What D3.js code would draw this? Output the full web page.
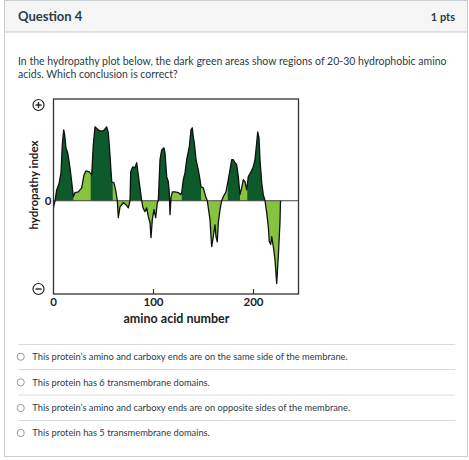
<!DOCTYPE html>
<html>
<head>
<meta charset="utf-8">
<script src="https://cdn.jsdelivr.net/npm/d3@7"></script>
<style>
  body { margin: 0; background: #fff; }
  svg { display: block; font-family: Lato, "Open Sans", sans-serif; }
</style>
</head>
<body>
<svg id="page"></svg>
<script>
// residue positions and hydropathy index
const residues = [
  0, 0.5, 1.5, 3.2, 5.5, 7.5, 8.8, 10.2, 11.2, 12.5, 14.2, 16.5, 18.2, 19.8,
  21.5, 24.8, 28.2, 30.5, 32.5, 35.8, 38.2, 39.8, 41.5, 44.8, 46.5, 49.8, 53.2, 54.8,
  56.5, 58.2, 60.5, 62.5, 63.8, 64.8, 66.5, 69.8, 72.5, 74.8, 76.5, 77.2, 79.2, 81.5,
  83.2, 84.8, 86.5, 88.2, 89.5, 91.5, 93.2, 94.8, 96.5, 97.5, 98.8, 100.5, 102.2, 103.8,
  104.8, 106.5, 108.2, 110.5, 111.5, 113.2, 114.8, 115.8, 116.5, 117.5, 118.8, 121.5, 124.8, 127.2,
  128.2, 129.8, 131.5, 133.2, 135.8, 137.5, 138.8, 139.8, 140.8, 142.5, 144.8, 146.5, 147.5, 149.8,
  152.2, 153.8, 155.5, 156.5, 157.5, 158.2, 159.8, 161.5, 162.5, 163.8, 164.8, 166.5, 168.2, 169.8,
  172.5, 174.8, 176.5, 178.2, 179.8, 181.5, 183.2, 184.8, 186.5, 188.2, 189.8, 191.5, 193.2, 194.8,
  197.5, 199.8, 201.5, 203.2, 204.2, 205.5, 206.5, 208.2, 209.8, 211.5, 213.2, 214.8, 215.8, 217.2,
  218.2, 219.8, 221.5, 223.2, 224.8, 226.5, 227
];
const hydropathy = [
  -0.21, -0.12, 0, 0.32, 0.50, 0.82, 1.65, 2.09, 1.94, 1.56, 1.41, 0.97, 0.56, 0.12,
  0.24, 0.26, 0.38, 0.76, 0.88, 0.85, 0.76, 1.65, 2.18, 2.09, 2.06, 2.06, 2.18, 2.00,
  1.35, 0.56, 0.53, 0.26, 0, -0.50, -0.18, -0.06, -0.12, -0.21, 0, 0.85, 1.00, 0.97,
  1.12, 0.76, 0.38, 0, -0.21, -0.32, -0.21, -0.47, -0.65, -1.09, -0.56, -0.26, -0.50, -0.06,
  0, 1.21, 1.50, 1.56, 1.41, 0.71, 0.56, 0.24, -0.41, 0.09, 0.26, 0.26, 0.24, 0.18,
  0.24, 0.62, 0.82, 1.21, 1.59, 2.09, 2.15, 1.88, 1.71, 1.21, 0.91, 0.62, 0.41, 0.38,
  0.12, 0, -0.35, -0.56, -1.06, -1.35, -1.06, -0.71, -1.06, -1.21, -0.65, -0.26, 0, 0.12,
  0.26, 0.62, 0.91, 1.21, 1.21, 1.12, 1.06, 0.71, 0.18, 0.38, 0.62, 0.56, 0.32, 0.71,
  0.85, 1.00, 1.21, 1.71, 2.03, 1.85, 1.21, 0.53, 0.18, 0, -0.35, -0.76, -1.21, -1.29,
  -1.06, -1.35, -1.74, -2.44, -1.65, -0.62, 0
];
// stretches of 20-30 hydrophobic residues (dark green)
const hydrophobicSpans = [
  [1.5, 19.8], [37.2, 59.2], [75.8, 88.2], [104.8, 117.5],
  [128.2, 147.5], [174.2, 186.5], [193.8, 211.5]
];
const xTicks = [0, 100, 200];

const questionTitle = 'Question 4';
const questionPoints = '1 pts';
const questionLines = [
  'In the hydropathy plot below, the dark green areas show regions of 20-30 hydrophobic amino',
  'acids. Which conclusion is correct?'
];
const answers = [
  'This protein\u2019s amino and carboxy ends are on the same side of the membrane.',
  'This protein has 6 transmembrane domains.',
  'This protein\u2019s amino and carboxy ends are on opposite sides of the membrane.',
  'This protein has 5 transmembrane domains.'
];

const width = 469;
const height = 460;
const textColor = '#2d3b45';
const borderColor = '#c7cdd1';

const svg = d3.select('svg#page')
  .attr('width', width)
  .attr('height', height);

// question box
svg.append('rect')
  .attr('x', 4.5).attr('y', 0.5)
  .attr('width', 463).attr('height', 456)
  .attr('fill', '#fff')
  .attr('stroke', borderColor);

svg.append('rect')
  .attr('x', 4.5).attr('y', 0.5)
  .attr('width', 463).attr('height', 31.5)
  .attr('fill', '#f5f5f5')
  .attr('stroke', borderColor);

svg.append('text')
  .attr('x', 18).attr('y', 20.5)
  .attr('font-size', 13)
  .attr('font-weight', 'bold')
  .attr('fill', textColor)
  .text(questionTitle);

svg.append('text')
  .attr('x', 455).attr('y', 20.5)
  .attr('text-anchor', 'end')
  .attr('font-size', 11)
  .attr('font-weight', 'bold')
  .attr('fill', textColor)
  .text(questionPoints);

svg.append('g')
  .selectAll('text')
  .data(questionLines)
  .enter()
  .append('text')
    .attr('x', 18)
    .attr('y', (d, i) => 64.5 + i * 13)
    .attr('font-size', 10.5)
    .attr('fill', textColor)
    .text(d => d);

// hydropathy plot
const plot = { left: 53.5, top: 99, right: 298.5, bottom: 294 };

const xScale = d3.scaleLinear()
  .domain([0, 245])
  .range([plot.left, plot.right]);

const yScale = d3.scaleLinear()
  .domain([-2.75, 3])
  .range([plot.bottom, plot.top]);

const data = residues.map((r, i) => ({ r, h: hydropathy[i] }));

const area = d3.area()
  .x(d => xScale(d.r))
  .y0(yScale(0))
  .y1(d => yScale(d.h));

const line = d3.line()
  .x(d => xScale(d.r))
  .y(d => yScale(d.h));

const chart = svg.append('g');

chart.append('clipPath')
  .attr('id', 'hydrophobic')
  .selectAll('rect')
  .data(hydrophobicSpans)
  .enter()
  .append('rect')
    .attr('x', d => xScale(d[0]))
    .attr('width', d => xScale(d[1]) - xScale(d[0]))
    .attr('y', plot.top)
    .attr('height', yScale(0) - plot.top);

chart.append('path')
  .datum(data)
  .attr('d', area)
  .attr('fill', '#86c440');

chart.append('path')
  .datum(data)
  .attr('d', area)
  .attr('clip-path', 'url(#hydrophobic)')
  .attr('fill', '#0d5a2d');

chart.append('line')
  .attr('x1', plot.left).attr('x2', plot.right)
  .attr('y1', yScale(0)).attr('y2', yScale(0))
  .attr('stroke', '#444')
  .attr('stroke-width', 1);

chart.append('path')
  .datum(data)
  .attr('d', line)
  .attr('fill', 'none')
  .attr('stroke', '#111')
  .attr('stroke-width', 1.3)
  .attr('stroke-linejoin', 'round');

chart.append('rect')
  .attr('x', plot.left).attr('y', plot.top)
  .attr('width', plot.right - plot.left)
  .attr('height', plot.bottom - plot.top)
  .attr('fill', 'none')
  .attr('stroke', '#333')
  .attr('stroke-width', 1.3);

// ticks point into the frame
chart.selectAll('.tick')
  .data(xTicks.filter(t => t > 0))
  .enter()
  .append('line')
    .attr('class', 'tick')
    .attr('x1', d => xScale(d)).attr('x2', d => xScale(d))
    .attr('y1', plot.bottom).attr('y2', plot.bottom - 5)
    .attr('stroke', '#333')
    .attr('stroke-width', 1.2);

chart.selectAll('.tick-label')
  .data(xTicks)
  .enter()
  .append('text')
    .attr('class', 'tick-label')
    .attr('x', d => xScale(d))
    .attr('y', 306)
    .attr('text-anchor', 'middle')
    .attr('font-size', 11.5)
    .attr('font-weight', 'bold')
    .attr('fill', '#222')
    .text(d => d);

chart.append('text')
  .attr('x', 51.5).attr('y', yScale(0))
  .attr('dy', '0.35em')
  .attr('text-anchor', 'end')
  .attr('font-size', 11.5)
  .attr('font-weight', 'bold')
  .attr('fill', '#222')
  .text('0');

chart.append('text')
  .attr('x', 176.5).attr('y', 322.5)
  .attr('text-anchor', 'middle')
  .attr('font-size', 12.5)
  .attr('font-weight', 'bold')
  .attr('fill', '#222')
  .text('amino acid number');

chart.append('text')
  .attr('transform', 'translate(37.5,185) rotate(-90)')
  .attr('text-anchor', 'middle')
  .attr('font-size', 11.5)
  .attr('font-weight', 'bold')
  .attr('fill', '#222')
  .text('hydropathy index');

// + and - markers at the ends of the y axis
const signs = [{ y: yScale(3) + 6, plus: true }, { y: yScale(-2.75) - 5, plus: false }];
const sign = chart.selectAll('.sign')
  .data(signs)
  .enter()
  .append('g')
    .attr('class', 'sign')
    .attr('transform', d => `translate(38.5,${d.y})`);

sign.append('circle')
  .attr('r', 5.5)
  .attr('fill', '#fff')
  .attr('stroke', '#222')
  .attr('stroke-width', 1.2);

sign.append('line')
  .attr('x1', -3).attr('x2', 3)
  .attr('stroke', '#222')
  .attr('stroke-width', 1.4);

sign.filter(d => d.plus)
  .append('line')
  .attr('y1', -3).attr('y2', 3)
  .attr('stroke', '#222')
  .attr('stroke-width', 1.4);

// answer choices
const rowY = [356.7, 382.3, 408, 433];
const separatorY = [344.5, 369.5, 395, 420.5];

svg.append('g')
  .selectAll('line')
  .data(separatorY)
  .enter()
  .append('line')
    .attr('x1', 18).attr('x2', 455)
    .attr('y1', d => d).attr('y2', d => d)
    .attr('stroke', '#d8dcdf')
    .attr('stroke-width', 1);

const choice = svg.append('g')
  .selectAll('g')
  .data(answers)
  .enter()
  .append('g')
    .attr('transform', (d, i) => `translate(0,${rowY[i]})`);

choice.append('circle')
  .attr('cx', 20.7)
  .attr('r', 3.6)
  .attr('fill', '#fff')
  .attr('stroke', '#8a8f94')
  .attr('stroke-width', 0.9);

choice.append('text')
  .attr('x', 32.3)
  .attr('dy', '0.35em')
  .attr('font-size', 9.3)
  .attr('fill', textColor)
  .text(d => d);
</script>
</body>
</html>
